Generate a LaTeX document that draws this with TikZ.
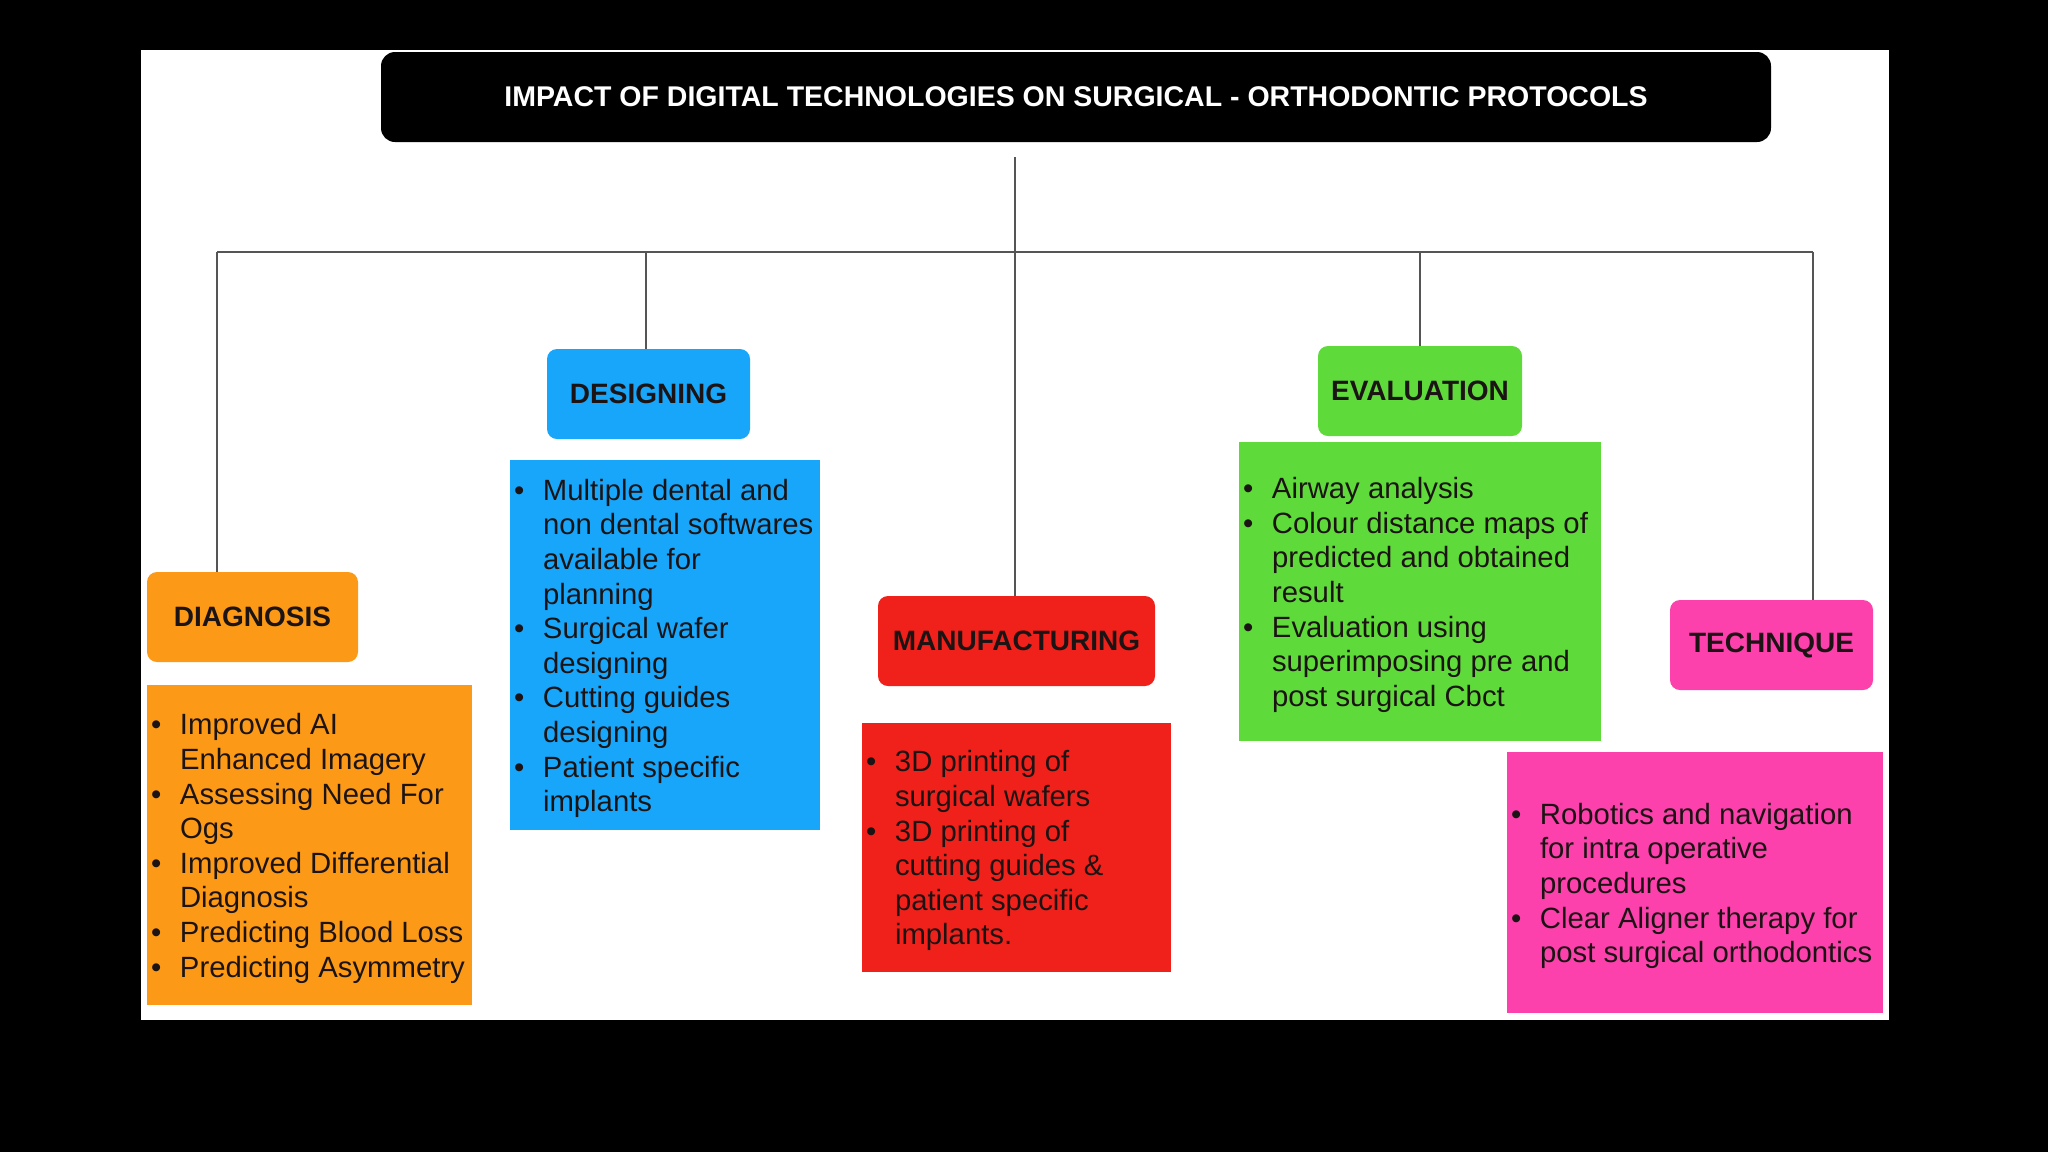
\documentclass[tikz,border=0pt]{standalone}
\usepackage{fontspec}
\setmainfont{Liberation Sans}
\definecolor{cOrange}{RGB}{252,154,24}
\definecolor{cBlue}{RGB}{24,166,250}
\definecolor{cRed}{RGB}{240,32,26}
\definecolor{cGreen}{RGB}{94,218,58}
\definecolor{cPink}{RGB}{252,64,172}
\definecolor{txt}{RGB}{28,20,20}
\definecolor{linegray}{RGB}{85,85,85}
\newcommand\bl{\makebox[29pt][l]{•}}
\begin{document}
\begin{tikzpicture}[x=1pt,y=-1pt,
  titlebox/.style={rectangle, rounded corners=14pt, fill=black, text=white, inner sep=0,
     minimum width=1390pt, minimum height=90pt, font=\fontsize{28.5}{34}\selectfont\bfseries},
  headbox/.style={rectangle, rounded corners=10pt, inner sep=0, minimum height=90pt,
     text=txt, font=\fontsize{28}{33}\selectfont\bfseries},
  listbox/.style={rectangle, inner sep=0},
  listtext/.style={anchor=west, inner sep=0, text=txt, font=\fontsize{29.3}{34.6}\selectfont},
  conn/.style={draw=linegray, line width=2pt}]
\useasboundingbox (0,0) rectangle (2048,1152);
\fill[black] (0,0) rectangle (2048,1152);
\fill[white] (141,50) rectangle (1889,1020);

% title
\node[titlebox] (title) at (1076,97) {IMPACT OF DIGITAL TECHNOLOGIES ON SURGICAL - ORTHODONTIC PROTOCOLS};

% headers
\node[headbox, fill=cOrange, minimum width=211pt] (diag) at (252.5,617) {DIAGNOSIS};
\node[headbox, fill=cBlue, minimum width=203pt] (design) at (648.5,394) {DESIGNING};
\node[headbox, fill=cRed, minimum width=277pt] (manuf) at (1016.5,641) {MANUFACTURING};
\node[headbox, fill=cGreen, minimum width=204pt] (eval) at (1420,391) {EVALUATION};
\node[headbox, fill=cPink, minimum width=203pt] (tech) at (1771.5,645) {TECHNIQUE};

% list boxes
\node[listbox, fill=cOrange, minimum width=325pt, minimum height=320pt] (diaglist) at (309.5,845) {};
\node[listbox, fill=cBlue, minimum width=310pt, minimum height=370pt] (designlist) at (665,645) {};
\node[listbox, fill=cRed, minimum width=309pt, minimum height=249pt] (manuflist) at (1016.5,847.5) {};
\node[listbox, fill=cGreen, minimum width=362pt, minimum height=299pt] (evallist) at (1420,591.5) {};
\node[listbox, fill=cPink, minimum width=376pt, minimum height=261pt] (techlist) at (1695,882.5) {};

% list texts
\node[listtext] (diagtxt) at ([xshift=4pt,yshift=-4pt]diaglist.west) {\begin{tabular}{@{}l@{}l@{}}
\bl & Improved AI\\
 & Enhanced Imagery\\
\bl & Assessing Need For\\
 & Ogs\\
\bl & Improved Differential\\
 & Diagnosis\\
\bl & Predicting Blood Loss\\
\bl & Predicting Asymmetry
\end{tabular}};

\node[listtext] (designtxt) at ([xshift=4pt,yshift=-4pt]designlist.west) {\begin{tabular}{@{}l@{}l@{}}
\bl & Multiple dental and\\
 & non dental softwares\\
 & available for\\
 & planning\\
\bl & Surgical wafer\\
 & designing\\
\bl & Cutting guides\\
 & designing\\
\bl & Patient specific\\
 & implants
\end{tabular}};

\node[listtext] (manuftxt) at ([xshift=4pt,yshift=-4pt]manuflist.west) {\begin{tabular}{@{}l@{}l@{}}
\bl & 3D printing of\\
 & surgical wafers\\
\bl & 3D printing of\\
 & cutting guides \&\\
 & patient specific\\
 & implants.
\end{tabular}};

\node[listtext] (evaltxt) at ([xshift=4pt,yshift=-4pt]evallist.west) {\begin{tabular}{@{}l@{}l@{}}
\bl & Airway analysis\\
\bl & Colour distance maps of\\
 & predicted and obtained\\
 & result\\
\bl & Evaluation using\\
 & superimposing pre and\\
 & post surgical Cbct
\end{tabular}};

\node[listtext] (techtxt) at ([xshift=4pt,yshift=-4pt]techlist.west) {\begin{tabular}{@{}l@{}l@{}}
\bl & Robotics and navigation\\
 & for intra operative\\
 & procedures\\
\bl & Clear Aligner therapy for\\
 & post surgical orthodontics
\end{tabular}};

% connectors
\coordinate (hub) at (1015,157);
\coordinate (busL) at (217,252);
\coordinate (busR) at (1813,252);
\coordinate (busD) at (646,252);
\coordinate (busE) at (1420,252);
\draw[conn] (busL) -- (busR);
\draw[conn] (hub) -- (hub |- manuf.north);
\draw[conn] (busL) -- (busL |- diag.north);
\draw[conn] (busD) -- (busD |- design.north);
\draw[conn] (busE) -- (busE |- eval.north);
\draw[conn] (busR) -- (busR |- tech.north);
\end{tikzpicture}
\end{document}
